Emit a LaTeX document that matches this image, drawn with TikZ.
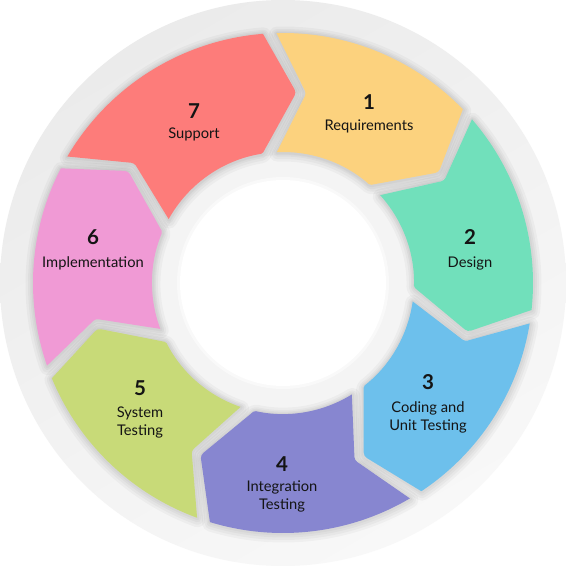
\documentclass[tikz,border=0pt]{standalone}
\usepackage{fontspec}
\setmainfont{Lato}
\definecolor{cA}{HTML}{FCD27E}
\definecolor{cB}{HTML}{71E0BB}
\definecolor{cC}{HTML}{6DC0EC}
\definecolor{cD}{HTML}{8786D0}
\definecolor{cE}{HTML}{C8DA78}
\definecolor{cF}{HTML}{F09AD5}
\definecolor{cG}{HTML}{FD7C7A}
\definecolor{bgA}{HTML}{EBEBEB}
\definecolor{bgB}{HTML}{F8F8F8}
\definecolor{ringin}{HTML}{F4F4F4}
\newcommand\segshape[3]{%
  \pgfmathsetmacro\aOs{#1-3.1}%
  \pgfmathsetmacro\aTs{#1-11.6}%
  \pgfmathsetmacro\aIs{#1-1.9}%
  \pgfmathsetmacro\aOe{#2}%
  \pgfmathsetmacro\aTe{#2-8.6}%
  \pgfmathsetmacro\aIe{#2+4.4}%
  \path[#3] (\aOs:250pt) arc[start angle=\aOs, end angle=\aOe, radius=250pt]
    [rounded corners=3.5pt] -- (\aTe:191pt) [rounded corners=1.5pt] -- (\aIe:131pt) [sharp corners]
    arc[start angle=\aIe, end angle=\aIs, radius=131pt]
    [rounded corners=3pt] -- (\aTs:191pt) [sharp corners] -- cycle;
}
\newcommand\seghalo[2]{%
  \segshape{#1}{#2}{halo=16pt, shift={(0.5pt,-1.5pt)}}%
  \segshape{#1}{#2}{halo=11pt, shift={(0.5pt,-1.5pt)}}%
  \segshape{#1}{#2}{halo=7pt, shift={(0.5pt,-1pt)}}%
  \segshape{#1}{#2}{halo=3.5pt, shift={(0.3pt,-0.6pt)}}%
}
\tikzset{
  segfill/.style={fill=#1},
  halo/.style={draw=black, line width=#1, draw opacity=0.03, line join=round},
  numtext/.style={font=\fontsize{20.5}{24}\selectfont\bfseries, text=black!92},
  labtext/.style={font=\fontsize{14.7}{18}\selectfont, align=center, text=black!92},
}
\begin{document}
\begin{tikzpicture}[x=1pt,y=1pt]
\useasboundingbox (-283,-283) rectangle (283,283);
\fill[white] (-283,-283) rectangle (283,283);
% background disk
\shade[top color=bgA, bottom color=bgB, shading angle=30] (0,0) circle[radius=283pt];
\fill[ringin] (0,0) circle[radius=128pt];
% shadows
\seghalo{94.6}{44}
\seghalo{44}{-6.2}
\seghalo{-6.2}{-56.4}
\seghalo{-56.4}{-107}
\seghalo{-107}{-157.6}
\seghalo{-157.6}{-207.3}
\seghalo{152.7}{94.6}
% white centre
\fill[white!50!ringin] (0,0) circle[radius=106pt];
\fill[white] (0,0) circle[radius=103pt];
% segments
\segshape{94.6}{44}{segfill=cA}
\segshape{44}{-6.2}{segfill=cB}
\segshape{-6.2}{-56.4}{segfill=cC}
\segshape{-56.4}{-107}{segfill=cD}
\segshape{-107}{-157.6}{segfill=cE}
\segshape{-157.6}{-207.3}{segfill=cF}
\segshape{152.7}{94.6}{segfill=cG}
% texts
\node[numtext] (n1) at (86,181) {1};
\node[labtext] (l1) at (86,157) {Requirements};
\node[numtext] (n2) at (187,46) {2};
\node[labtext] (l2) at (187,20) {Design};
\node[numtext] (n3) at (145,-99) {3};
\node[labtext] (l3) at (145,-134) {Coding and\\Unit Testing};
\node[numtext] (n4) at (-1,-181) {4};
\node[labtext] (l4) at (-1,-213) {Integration\\Testing};
\node[numtext] (n5) at (-143,-105) {5};
\node[labtext] (l5) at (-143,-140) {System\\Testing};
\node[numtext] (n6) at (-190,46) {6};
\node[labtext] (l6) at (-190,20) {Implementation};
\node[numtext] (n7) at (-89,172) {7};
\node[labtext] (l7) at (-89,149) {Support};
\end{tikzpicture}
\end{document}
